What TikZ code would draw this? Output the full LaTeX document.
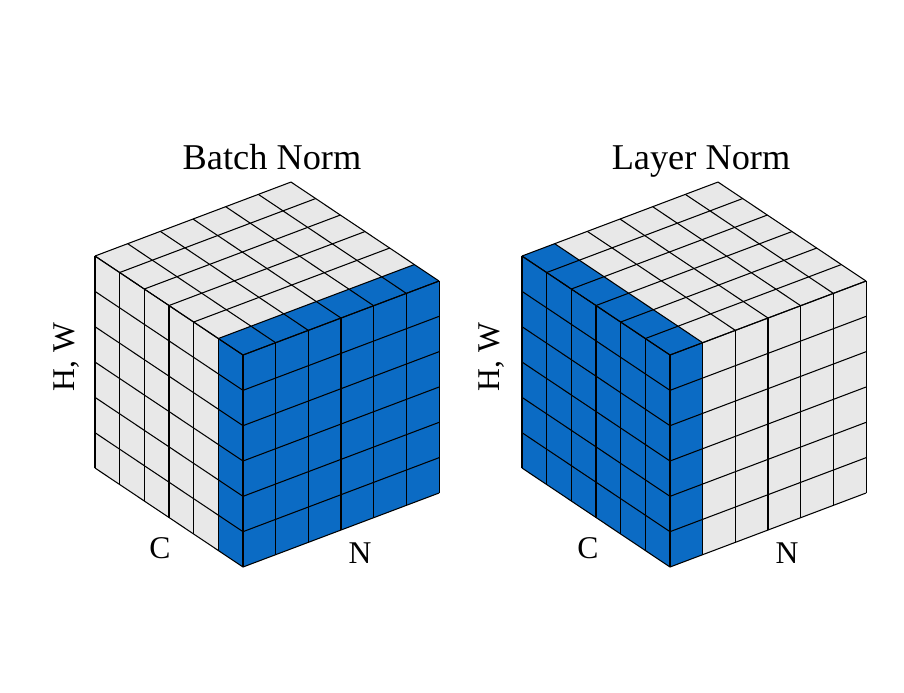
\documentclass[tikz,border=0pt]{standalone}
\usepackage{fontspec}
\setmainfont{Liberation Serif}
\definecolor{normblue}{HTML}{0B6BC4}
\definecolor{cellgray}{HTML}{E8E8E8}
\tikzset{
  grid line/.style={black, line width=0.9pt},
  axis label/.style={font=\fontsize{27}{30}\selectfont},
  title label/.style={font=\fontsize{31}{36}\selectfont, anchor=base},
}
% 6x6x6 grid of a cube, front bottom vertex at the origin of the scope
\newcommand{\cubegrid}{%
  \foreach \k in {0,...,6} {
    \draw[grid line] (0,-\k*\v) -- ++(6*\cx,6*\cy);
    \draw[grid line] (0,-\k*\v) -- ++(6*\nx,6*\ny);
    \draw[grid line] (\k*\cx,\k*\cy) -- ++(0,-6*\v);
    \draw[grid line] (\k*\nx,\k*\ny) -- ++(0,-6*\v);
    \draw[grid line] (\k*\cx,\k*\cy-6*\v) -- ++(6*\nx,6*\ny);
    \draw[grid line] (\k*\nx,\k*\ny-6*\v) -- ++(6*\cx,6*\cy);
  }}
\newcommand{\cubegray}{%
  \fill[cellgray] (0,0) -- ++(6*\cx,6*\cy) -- ++(0,-6*\v) -- ++(6*\nx,6*\ny)
    -- ++(-6*\cx,-6*\cy) -- ++(0,6*\v) -- cycle;}
\begin{document}
\begin{tikzpicture}[x=0.03cm,y=-0.03cm]
  \useasboundingbox (0,0) rectangle (904,692);
  \pgfmathsetmacro{\cx}{-24.67}
  \pgfmathsetmacro{\cy}{-16.5}
  \pgfmathsetmacro{\nx}{32.67}
  \pgfmathsetmacro{\ny}{-12.33}
  \pgfmathsetmacro{\v}{35.33}

  % Batch Norm
  \begin{scope}[shift={(243,567)}]
    \cubegray
    \fill[normblue] (0,0) -- (\cx,\cy) -- ++(0,-6*\v) -- (0,-6*\v) -- cycle;
    \fill[normblue] (0,0) -- (6*\nx,6*\ny) -- ++(0,-6*\v) -- (0,-6*\v) -- cycle;
    \fill[normblue] (0,-6*\v) -- ++(6*\nx,6*\ny) -- ++(\cx,\cy) -- ++(-6*\nx,-6*\ny) -- cycle;
    \cubegrid
  \end{scope}
  \node[title label] (bntitle) at (272,169) {Batch Norm};
  \node[axis label, rotate=90] (bnhw) at (67,357) {H, W};
  \node[axis label] (bnc) at (160,548) {C};
  \node[axis label] (bnn) at (360,553) {N};

  % Layer Norm
  \begin{scope}[shift={(670,567)}]
    \cubegray
    \fill[normblue] (0,0) -- (6*\cx,6*\cy) -- ++(0,-6*\v) -- (0,-6*\v) -- cycle;
    \fill[normblue] (0,0) -- (\nx,\ny) -- ++(0,-6*\v) -- (0,-6*\v) -- cycle;
    \fill[normblue] (0,-6*\v) -- ++(6*\cx,6*\cy) -- ++(\nx,\ny) -- ++(-6*\cx,-6*\cy) -- cycle;
    \cubegrid
  \end{scope}
  \node[title label] (lntitle) at (701,169) {Layer Norm};
  \node[axis label, rotate=90] (lnhw) at (492,357) {H, W};
  \node[axis label] (lnc) at (588,548) {C};
  \node[axis label] (lnn) at (787,553) {N};
\end{tikzpicture}
\end{document}
